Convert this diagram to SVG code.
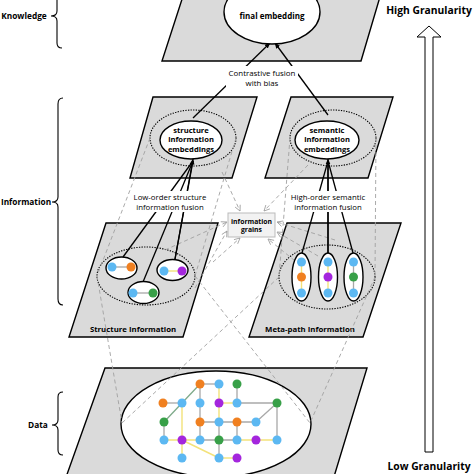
<svg xmlns="http://www.w3.org/2000/svg" width="474" height="474" viewBox="0 0 474 474">
<style>
.plane{fill:#dadada;stroke:#000;stroke-width:1.4}
.ell{fill:#fff;stroke:#000;stroke-width:1.4}
.dot{fill:none;stroke:#000;stroke-width:1.1;stroke-dasharray:1.3 1.3}
.dash{fill:none;stroke:#a0a0a0;stroke-width:0.9;stroke-dasharray:4 3}
.arr{fill:none;stroke:#a0a0a0;stroke-width:0.9;stroke-dasharray:4 3;marker-end:url(#ga)}
.sol{fill:none;stroke:#000;stroke-width:1.3}
.solA{fill:none;stroke:#000;stroke-width:1.3;marker-end:url(#ba)}
.brace{fill:none;stroke:#000;stroke-width:1.1}
.t{font-family:"Open Sans","Noto Sans",sans-serif;fill:#000;text-anchor:middle}
.b{font-weight:bold}
.eg{stroke:#a8a8a8;stroke-width:1.3}
.ey{stroke:#f3e27a;stroke-width:1.4}
.eG{stroke:#7faa8a;stroke-width:1.3}
.nb{fill:#5cb8f2}
.no{fill:#f08020}
.ng{fill:#38a048}
.np{fill:#a426dd}
</style>
<defs>
<marker id="ba" viewBox="0 0 10 10" refX="9" refY="5" markerWidth="6" markerHeight="6" orient="auto" markerUnits="userSpaceOnUse"><path d="M0,1 L10,5 L0,9 Z" fill="#000"/></marker>
<marker id="ga" viewBox="0 0 10 10" refX="9" refY="5" markerWidth="7" markerHeight="7" orient="auto" markerUnits="userSpaceOnUse"><path d="M1,1 L9,5 L1,9" fill="none" stroke="#a0a0a0" stroke-width="1.2"/></marker>
</defs>
<rect width="474" height="474" fill="#fff"/>

<g id="side-labels">
<path class="brace" d="M62,-20 Q57,-20 57,-14 L57,11 Q57,16 51,16 Q57,16 57,21 L57,43 Q57,48 62,48"/>
<text class="t b" x="24" y="19" font-size="8.3">Knowledge</text>
<path class="brace" d="M63,98 Q58,98 58,104 L58,197 Q58,202 52,202 Q58,202 58,207 L58,299 Q58,305 63,305"/>
<text class="t b" x="26" y="205" font-size="8.3">Information</text>
<path class="brace" d="M63,392 Q58,392 58,397 L58,420 Q58,425 52,425 Q58,425 58,430 L58,450 Q58,455 63,455"/>
<text class="t b" x="38" y="428" font-size="8.3">Data</text>
<text class="t b" x="429" y="14" font-size="10.3">High Granularity</text>
<text class="t b" x="429" y="470" font-size="10.3">Low Granularity</text>
<path d="M429,26 L441,37 L433,37 L433,452 L425,452 L425,37 L417,37 Z" fill="#fff" stroke="#000" stroke-width="1"/>
</g>

<g id="data-plane">
<polygon class="plane" points="105,368 367,368 333,480 65,480"/>
<ellipse class="ell" cx="216" cy="424" rx="95" ry="53"/>
</g>

<g id="structure-info">
<polygon class="plane" points="106,223 218,223 183,337 69,337"/>
<ellipse class="dot" cx="146" cy="276" rx="49" ry="29"/>
<text class="t b" x="133" y="332" font-size="7.8">Structure Information</text>
</g>

<g id="metapath-info">
<polygon class="plane" points="287,223 401,223 363,337 249,337"/>
<ellipse class="dot" cx="327" cy="277" rx="48" ry="32"/>
<text class="t b" x="310" y="332" font-size="7.8">Meta-path Information</text>
</g>

<g id="structure-emb-plane">
<polygon class="plane" points="153,97 257,97 232,178 130,178"/>
<ellipse class="dot" cx="193" cy="138" rx="43" ry="28"/>
</g>
<g id="semantic-emb-plane">
<polygon class="plane" points="291,97 393,97 368,178 265,178"/>
<ellipse class="dot" cx="333" cy="138" rx="43" ry="28"/>
</g>

<g id="final-plane">
<polygon class="plane" points="185,-10 382,-10 361,61 162,61"/>
</g>

<g id="connectors">
<path class="dash" d="M97,276 L122,423"/>
<path class="dash" d="M195,276 L310,423"/>
<path class="dash" d="M279,277 L122,423"/>
<path class="dash" d="M375,277 L310,423"/>
<path class="dash" d="M150,138 L97,276"/>
<path class="dash" d="M236,138 L195,276"/>
<path class="dash" d="M290,138 L279,277"/>
<path class="dash" d="M376,138 L375,277"/>
<path class="arr" d="M222,172 L240,211"/>
<path class="arr" d="M308,165 L264,211"/>
<path class="arr" d="M165,250 L227,222"/>
<path class="arr" d="M195,288 L227,231"/>
<path class="arr" d="M213,262 L240,238"/>
<path class="arr" d="M335,240 L277,222"/>
<path class="arr" d="M318,256 L277,232"/>
<path class="arr" d="M300,265 L268,239"/>
<path class="sol" d="M123,257 L193,161"/>
<path class="sol" d="M143,282 L193,161"/>
<path class="sol" d="M175,259 L193,161"/>
<path class="solA" d="M175,259 L193,159"/>
<path class="sol" d="M302,253 L328,161"/>
<path class="sol" d="M328,253 L328,161"/>
<path class="sol" d="M353,253 L328,161"/>
<path class="solA" d="M328,253 L328,159"/>
<path class="solA" d="M193,118 L270,43"/>
<path class="solA" d="M328,115 L275,43"/>
</g>

<g id="label-backs">
<rect x="226" y="66" width="72" height="22" fill="#fff"/>
<rect x="131" y="191" width="79" height="21" fill="#fff"/>
<rect x="288" y="191" width="80" height="21" fill="#fff"/>
</g>
<g id="fusion-labels">
<text class="t" x="262" y="76" font-size="7.9">Contrastive fusion</text>
<text class="t" x="262" y="86" font-size="7.9">with bias</text>
<text class="t" x="170" y="200" font-size="7.8">Low-order structure</text>
<text class="t" x="170" y="210" font-size="7.8">information fusion</text>
<text class="t" x="328" y="200" font-size="7.8">High-order semantic</text>
<text class="t" x="328" y="210" font-size="7.8">information fusion</text>
</g>

<g id="final-embedding">
<ellipse class="ell" cx="272" cy="12" rx="48" ry="32"/>
<text class="t b" x="272" y="19" font-size="8">final embedding</text>
</g>

<g id="structure-embeddings">
<ellipse class="ell" cx="191" cy="140" rx="31" ry="19"/>
<text class="t b" x="191" y="132.5" font-size="7.6">structure</text>
<text class="t b" x="191" y="142" font-size="7.6">information</text>
<text class="t b" x="191" y="151.5" font-size="7.6">embeddings</text>
</g>

<g id="semantic-embeddings">
<ellipse class="ell" cx="327" cy="140" rx="32" ry="19"/>
<text class="t b" x="327" y="132.5" font-size="7.6">semantic</text>
<text class="t b" x="327" y="142" font-size="7.6">information</text>
<text class="t b" x="327" y="151.5" font-size="7.6">embeddings</text>
</g>

<g id="information-grains">
<rect x="228" y="213" width="47" height="24" fill="#f2f2f2" stroke="#bbb" stroke-width="1"/>
<text class="t b" x="251.5" y="223.5" font-size="6.8">information</text>
<text class="t b" x="251.5" y="232" font-size="6.8">grains</text>
</g>

<g id="structure-grains">
<ellipse class="ell" cx="121.5" cy="268" rx="15.5" ry="11"/>
<line class="eg" x1="112" y1="267" x2="131" y2="267"/>
<circle class="nb" cx="112" cy="267" r="4.5"/><circle class="no" cx="131" cy="267" r="4.5"/>
<ellipse class="ell" cx="143.5" cy="292.5" rx="15.5" ry="11"/>
<line class="eg" x1="133" y1="293" x2="153" y2="293"/>
<circle class="nb" cx="133" cy="293" r="4.5"/><circle class="ng" cx="153" cy="293" r="4.5"/>
<ellipse class="ell" cx="172.5" cy="270" rx="15.5" ry="10.5"/>
<line class="ey" x1="164" y1="271" x2="182" y2="271"/>
<circle class="nb" cx="164" cy="271" r="4.5"/><circle class="np" cx="182" cy="271" r="4.5"/>
</g>

<g id="metapath-grains">
<ellipse class="ell" cx="301.5" cy="277" rx="9.5" ry="24"/>
<line class="ey" x1="301.5" y1="262" x2="301.5" y2="293"/>
<circle class="nb" cx="301.5" cy="262" r="4.5"/><circle class="no" cx="301.5" cy="277" r="4.5"/><circle class="nb" cx="301.5" cy="293" r="4.5"/>
<ellipse class="ell" cx="328" cy="277" rx="9.5" ry="24"/>
<line class="ey" x1="328" y1="262" x2="328" y2="293"/>
<circle class="nb" cx="328" cy="262" r="4.5"/><circle class="np" cx="328" cy="277" r="4.5"/><circle class="nb" cx="328" cy="293" r="4.5"/>
<ellipse class="ell" cx="353.5" cy="277" rx="9.5" ry="24"/>
<line class="eg" x1="353.5" y1="262" x2="353.5" y2="293"/>
<circle class="nb" cx="353.5" cy="262" r="4.5"/><circle class="ng" cx="353.5" cy="277" r="4.5"/><circle class="nb" cx="353.5" cy="293" r="4.5"/>
</g>

<g id="data-graph">
<g class="eg">
<line x1="200" y1="384" x2="219" y2="384"/>
<line class="eG" x1="200" y1="384" x2="182" y2="403"/>
<line class="eG" x1="182" y1="403" x2="164" y2="422"/>
<line x1="200" y1="384" x2="200" y2="403"/>
<line x1="237" y1="384" x2="237" y2="403"/>
<line x1="163" y1="403" x2="182" y2="403"/>
<line x1="237" y1="403" x2="277" y2="403"/>
<line x1="277" y1="403" x2="256" y2="422"/>
<line x1="277" y1="403" x2="277" y2="440"/>
<line x1="200" y1="403" x2="200" y2="422"/>
<line x1="200" y1="422" x2="256" y2="422"/>
<line x1="164" y1="422" x2="164" y2="440"/>
<line x1="200" y1="422" x2="200" y2="440"/>
<line x1="219" y1="422" x2="219" y2="458"/>
<line x1="237" y1="422" x2="237" y2="440"/>
<line x1="200" y1="440" x2="237" y2="440"/>
</g>
<g class="ey">
<line x1="219" y1="384" x2="219" y2="422"/>
<line x1="219" y1="403" x2="237" y2="403"/>
<line x1="182" y1="403" x2="182" y2="458"/>
<line x1="164" y1="440" x2="200" y2="440"/>
<line x1="237" y1="440" x2="277" y2="440"/>
<line x1="182" y1="440" x2="219" y2="458"/>
<line x1="219" y1="458" x2="237" y2="458"/>
</g>
<circle class="no" cx="200" cy="384" r="4.5"/><circle class="nb" cx="219" cy="384" r="4.5"/><circle class="ng" cx="237" cy="384" r="4.5"/>
<circle class="no" cx="163" cy="403" r="4.5"/><circle class="nb" cx="182" cy="403" r="4.5"/><circle class="nb" cx="200" cy="403" r="4.5"/><circle class="np" cx="219" cy="403" r="4.5"/><circle class="nb" cx="237" cy="403" r="4.5"/><circle class="ng" cx="277" cy="403" r="4.5"/>
<circle class="ng" cx="164" cy="422" r="4.5"/><circle class="no" cx="200" cy="422" r="4.5"/><circle class="nb" cx="219" cy="422" r="4.5"/><circle class="no" cx="237" cy="422" r="4.5"/><circle class="nb" cx="256" cy="422" r="4.5"/>
<circle class="nb" cx="164" cy="440" r="4.5"/><circle class="np" cx="182" cy="440" r="4.5"/><circle class="nb" cx="200" cy="440" r="4.5"/><circle class="ng" cx="219" cy="440" r="4.5"/><circle class="nb" cx="237" cy="440" r="4.5"/><circle class="np" cx="256" cy="440" r="4.5"/><circle class="nb" cx="277" cy="440" r="4.5"/>
<circle class="nb" cx="182" cy="458" r="4.5"/><circle class="nb" cx="219" cy="458" r="4.5"/><circle class="np" cx="237" cy="458" r="4.5"/>
</g>
</svg>
